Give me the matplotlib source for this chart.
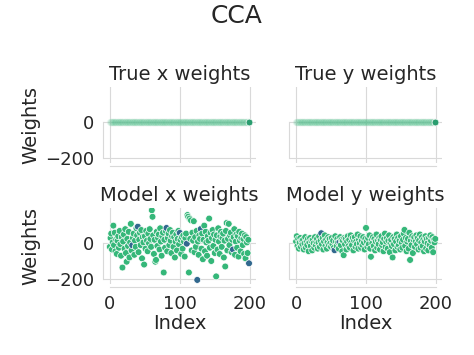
import matplotlib
matplotlib.use("Agg")
import matplotlib.pyplot as plt

# weights (index 0..199)
model_x = [-20, 30, 55, -35, 5, 100, -10, 60, -45, 20,
           -60, 15, 40, -25, 70, -5, -70, 35, -137, 10,
           50, -30, 80, -55, -104, 25, -15, 65, -80, 5,
           110, -40, -11, 30, 55, -65, 15, -20, 85, 45,
           94, -50, 20, 60, -10, 75, -85, 35, 5, -120,
           40, -30, 70, 15, -45, 55, 0, 80, 25, -20,
           187, 150, 45, -60, 20, -104, -94, 65, -15, 30,
           50, -35, 85, 10, -70, 40, 60, -165, 20, -25,
           70, 87, -45, 30, 55, -10, 75, 15, -55, 40,
           60, -20, 35, -80, 10, 50, -40, 25, 70, -5,
           59, 20, -60, 35, -30, 45, 10, -75, 30, 55,
           -2, 160, 150, -165, 140, 25, 130, -40, 60, 15,
           125, -50, 35, -20, 70, -207, 10, -65, 45, 25,
           81, -30, 55, -90, 20, 100, -45, 65, 5, -70,
           40, 15, 140, -25, 60, -100, 30, 75, -15, 50,
           -55, 20, -187, 45, -35, 85, 10, -60, 40, 65,
           -20, 30, 55, -80, 15, -131, 70, 115, -40, 25,
           110, -10, 45, 60, -50, 20, -35, 35, 80, -65,
           10, 50, -25, 40, -75, 65, 15, -45, 30, 55,
           -10, 25, -60, 45, -85, 35, 5, -55, 20, -113]

model_y = [10, 40, -15, 25, -30, 5, 30, -20, 15, -5,
           20, -35, 0, 35, -25, 10, -10, 25, -45, 5,
           30, -15, 15, -40, 20, 0, -25, 35, -10, 10,
           25, -30, 5, 40, -20, 15, 57, -5, 30, -35,
           10, 45, -15, 20, -30, 5, 35, -10, 25, 0,
           -20, 30, -5, 15, -25, -39, 40, 10, -15, 25,
           5, -30, 7, 35, -10, 20, -45, 15, -67, 30,
           -5, 25, -35, 10, 40, -15, 20, -25, 45, 5,
           -10, 30, -40, 15, 35, -20, 10, -5, 50, -30,
           20, 0, 40, -25, 15, -10, 35, 5, -35, 25,
           87, 10, -20, 30, -5, 45, -30, -76, 20, 0,
           35, -15, 25, -40, 10, 50, -25, 15, -5, 30,
           -35, 20, 40, -10, 5, -45, 25, 55, -20, 10,
           30, -30, 15, 45, -50, 0, 20, -15, -80, 35,
           -5, 25, -40, 10, 50, -20, 30, -10, 15, -35,
           40, 5, -25, 20, 55, 76, -15, 30, -45, 10,
           25, -30, 60, -94, 15, -10, 40, -55, 20, 35,
           -20, 10, 45, -5, 30, -35, 15, 50, -25, 5,
           35, -15, 20, -45, 10, 40, -30, 25, 0, -40,
           30, -10, 45, 15, -25, 35, -50, 20, 5, 25]

# true weights are all (close to) zero
true_x = [0] * 200
true_y = [0] * 200

# indices drawn in the darker hue
dark_x = [32, 40, 81, 100, 110, 125, 130, 176, 199]
dark_y = [36, 55, 62]

green = "#35b779"
blue = "#31688e"
txt = "#262626"
gridc = "#d9d9d9"

plt.rcParams['font.family'] = ['DejaVu Sans']
fig, axs = plt.subplots(2, 2, figsize=(4.74, 3.55), dpi=100, sharex=True, sharey=True)
plt.subplots_adjust(left=0.217, right=0.933, top=0.755, bottom=0.2, wspace=0.216, hspace=0.59)

def draw(ax, vals, dark, title, faint=False):
    idx = list(range(len(vals)))
    if faint:
        ax.scatter(idx, vals, s=28, color=green, alpha=0.1, edgecolor="white", linewidth=0.5, zorder=3)
        ax.scatter([idx[-1]], [vals[-1]], s=24, color="#2a9d6f", edgecolor="white", linewidth=0.5, zorder=4)
    else:
        cols = [blue if i in dark else green for i in idx]
        ax.scatter(idx, vals, s=24, c=cols, edgecolor="white", linewidth=0.5, zorder=3)
    ax.set_title(title, fontsize=14, color=txt, pad=5)
    ax.grid(True, color=gridc, linewidth=0.8)
    ax.set_axisbelow(True)
    for s in ["top", "right"]:
        ax.spines[s].set_visible(False)
    ax.spines["left"].set_bounds(-200, 0)
    ax.spines["bottom"].set_bounds(0, 200)
    ax.spines["bottom"].set_position(("outward", 2))
    for s in ["left", "bottom"]:
        ax.spines[s].set_color(gridc)
    ax.tick_params(length=0, labelsize=13, colors=txt, pad=6)

draw(axs[0, 0], true_x, [], "True x weights", faint=True)
draw(axs[0, 1], true_y, [], "True y weights", faint=True)
draw(axs[1, 0], model_x, dark_x, "Model x weights")
draw(axs[1, 1], model_y, dark_y, "Model y weights")

axs[0, 0].set_ylim(-230, 200)
axs[0, 0].set_yticks([-200, 0])
axs[0, 0].set_xlim(-10, 209)
axs[0, 0].set_xticks([0, 100, 200])

for ax in axs[:, 0]:
    ax.set_ylabel("Weights", fontsize=14, color=txt)
for ax in axs[1, :]:
    ax.set_xlabel("Index", fontsize=14, color=txt, labelpad=1)

fig.suptitle("CCA", fontsize=18, color=txt, y=0.99)

plt.savefig("out.png", dpi=100)
